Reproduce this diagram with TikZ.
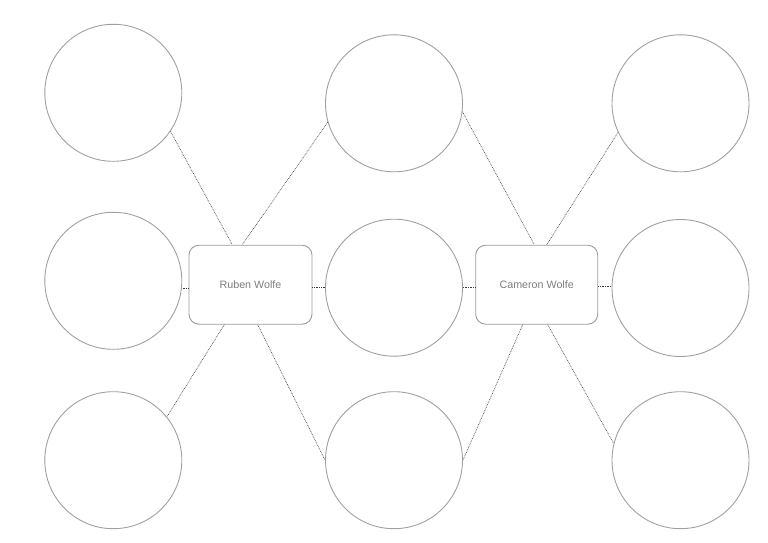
\documentclass[tikz,border=0pt]{standalone}
\usepackage{fontspec}
\setmainfont{Liberation Sans}
\usetikzlibrary{calc}
\definecolor{circgray}{RGB}{160,160,160}
\definecolor{boxgray}{RGB}{155,155,155}
\definecolor{txtgray}{RGB}{125,125,125}
\definecolor{dotgray}{RGB}{60,60,60}
\begin{document}
\begin{tikzpicture}[x=1pt,y=-1pt,
  bubble/.style={circle,draw=circgray,line width=0.9pt,minimum size=137pt,inner sep=0pt},
  namebox/.style={draw=boxgray,line width=0.9pt,rounded corners=10pt,minimum width=122pt,minimum height=79pt,inner sep=0pt,font=\fontsize{10.7}{12}\selectfont,text=txtgray},
  conn/.style={draw=dotgray,line width=0.6pt,dash pattern=on 0.8pt off 0.9pt}]
\useasboundingbox (0,0) rectangle (768,543);
% circles
\node[bubble] (tl) at (113.3,92.8) {};
\node[bubble] (ml) at (113.3,280.8) {};
\node[bubble] (bl) at (113.3,460.2) {};
\node[bubble] (tm) at (394,103.3) {};
\node[bubble] (mm) at (394,287.7) {};
\node[bubble] (bm) at (394,460.2) {};
\node[bubble] (tr) at (680.5,103.3) {};
\node[bubble] (mr) at (680.5,288) {};
\node[bubble] (br) at (680.5,460.2) {};
% boxes
\node[namebox,minimum width=123pt] (rw) at (250.5,284.7) {Ruben Wolfe};
\node[namebox] (cw) at (536.7,284.7) {Cameron Wolfe};
% Ruben connectors
\draw[conn] (tl.-34) -- ([xshift=-18.2pt]rw.north);
\draw[conn] (tm.-164) -- ([xshift=-8.2pt]rw.north);
\draw[conn] ([xshift=-26.2pt]rw.south) -- (bl.39);
\draw[conn] ([xshift=7.2pt]rw.south) -- (bm.180);
\coordinate (rwl) at ([yshift=-3.3pt]rw.west);
\draw[conn] (rwl) -- (rwl -| ml.east);
\draw[conn] (mm.west) -- (mm.west -| rw.east);
% Cameron connectors
\draw[conn] (tm.-7.8) -- ([xshift=-2.4pt]cw.north);
\draw[conn] (tr.-155.3) -- ([xshift=10pt]cw.north);
\draw[conn] ([xshift=-14pt]cw.south) -- (bm.0);
\draw[conn] ([xshift=11pt]cw.south) -- (br.166.7);
\draw[conn] (mm.east) -- (mm.east -| cw.west);
\coordinate (cwr) at ([yshift=-1.3pt]cw.east);
\draw[conn] (cwr) -- (cwr -| mr.west);
\end{tikzpicture}
\end{document}
